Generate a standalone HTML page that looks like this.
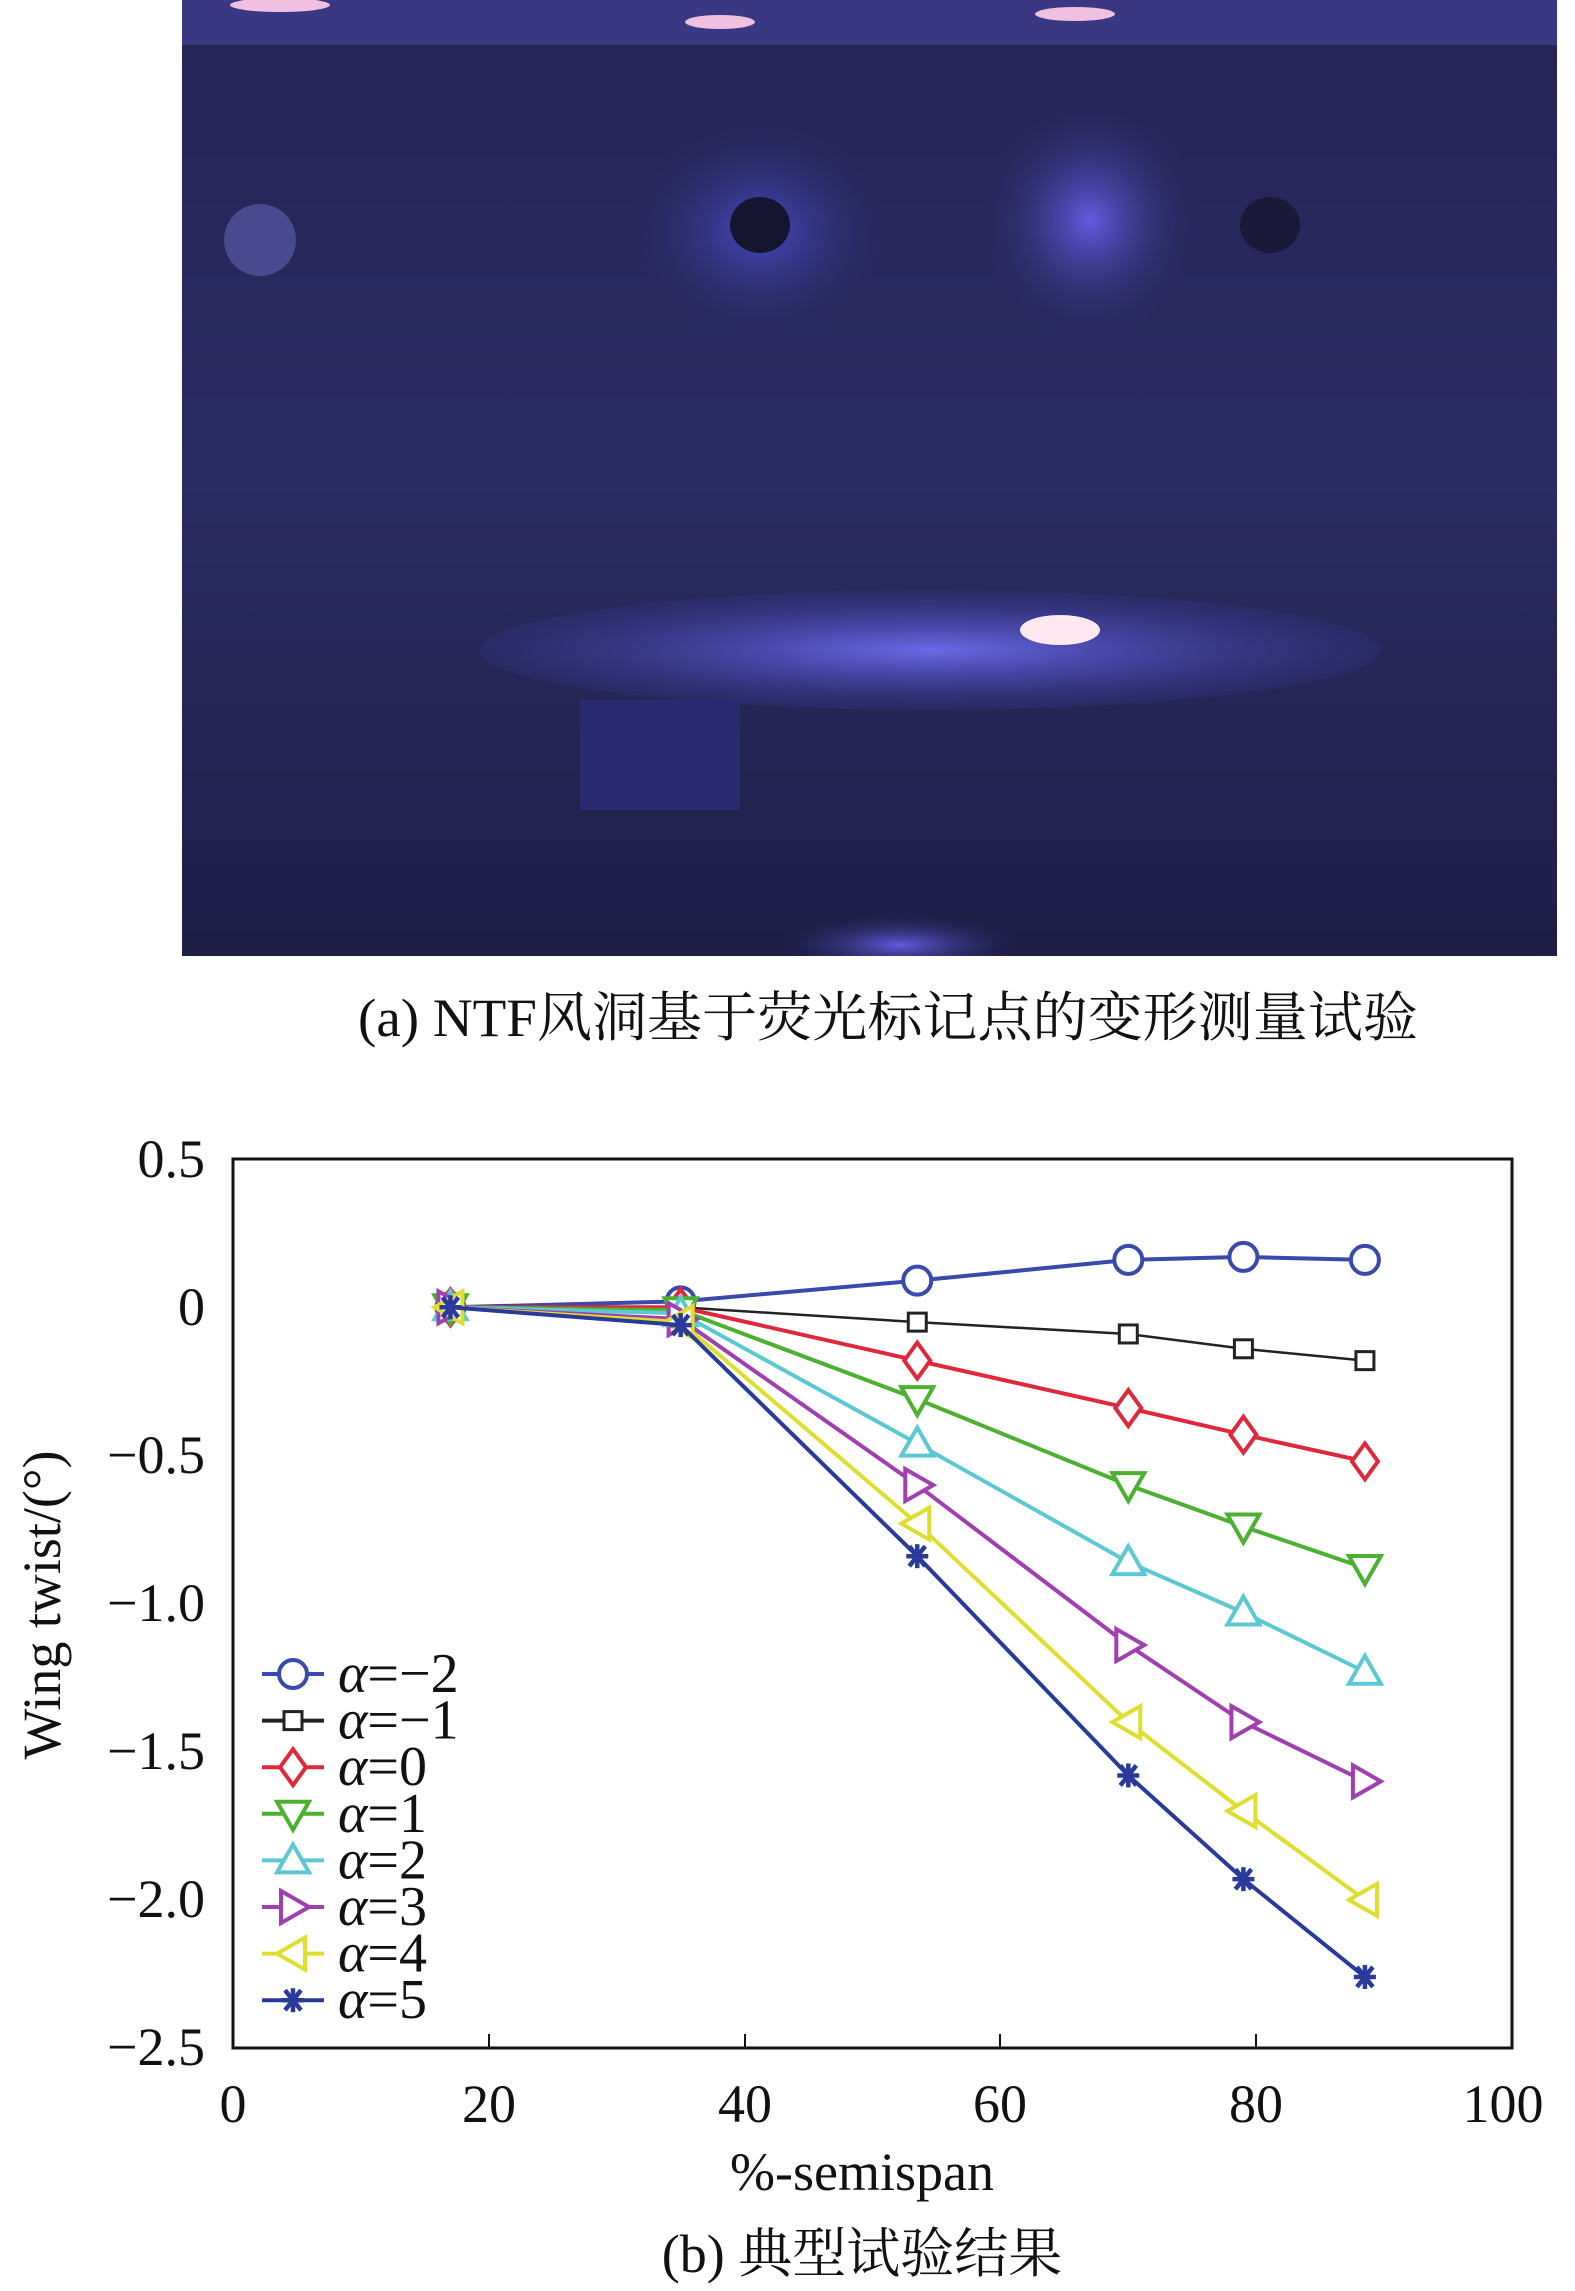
<!DOCTYPE html>
<html><head><meta charset="utf-8"><style>
html,body{margin:0;padding:0;background:#fff;}
svg{display:block;}
text{font-family:"Liberation Serif","Noto Serif CJK SC",serif;fill:#111;}
</style></head><body>
<svg width="1575" height="2291" viewBox="0 0 1575 2291" xmlns="http://www.w3.org/2000/svg">
<defs>
<radialGradient id="b1" cx="0.5" cy="0.5" r="0.5"><stop offset="0" stop-color="#4a4fd0" stop-opacity="0.9"/><stop offset="1" stop-color="#2a2b66" stop-opacity="0"/></radialGradient>
<radialGradient id="b2" cx="0.5" cy="0.5" r="0.5"><stop offset="0" stop-color="#6a60f0" stop-opacity="0.9"/><stop offset="1" stop-color="#2a2b66" stop-opacity="0"/></radialGradient>
<radialGradient id="wing" cx="0.5" cy="0.5" r="0.5"><stop offset="0" stop-color="#6a6ae8"/><stop offset="1" stop-color="#3a3aa0" stop-opacity="0.2"/></radialGradient>
<linearGradient id="bg" x1="0" y1="0" x2="0" y2="1"><stop offset="0" stop-color="#252457"/><stop offset="0.5" stop-color="#2b2c62"/><stop offset="1" stop-color="#1e1e46"/></linearGradient>
<clipPath id="pc"><rect x="182" y="0" width="1375" height="956"/></clipPath>
</defs>
<g clip-path="url(#pc)">
<rect x="182" y="0" width="1375" height="956" fill="url(#bg)"/>
<rect x="182" y="0" width="1375" height="45" fill="#3a3882"/>
<ellipse cx="1090" cy="220" rx="110" ry="120" fill="url(#b2)"/>
<ellipse cx="760" cy="230" rx="130" ry="110" fill="url(#b1)"/>
<ellipse cx="760" cy="225" rx="30" ry="28" fill="#151530"/>
<ellipse cx="1270" cy="225" rx="30" ry="28" fill="#1a1a38"/>
<ellipse cx="260" cy="240" rx="36" ry="36" fill="#4a4a90"/>
<ellipse cx="280" cy="5" rx="50" ry="7" fill="#f0c0e0"/>
<ellipse cx="720" cy="22" rx="35" ry="7" fill="#f0c0e0"/>
<ellipse cx="1075" cy="14" rx="40" ry="7" fill="#f0c0e0"/>
<ellipse cx="930" cy="650" rx="450" ry="60" fill="url(#wing)"/>
<rect x="580" y="700" width="160" height="110" fill="#2a2a70"/>
<ellipse cx="1060" cy="630" rx="40" ry="15" fill="#ffe8f0"/>
<ellipse cx="900" cy="945" rx="120" ry="30" fill="url(#b2)"/>
</g>
<text x="888" y="1036" font-size="54" text-anchor="middle" textLength="1060" lengthAdjust="spacingAndGlyphs">(a) NTF风洞基于荧光标记点的变形测量试验</text>
<rect x="233" y="1159" width="1279" height="889" fill="none" stroke="#111" stroke-width="3"/>
<g stroke="#111" stroke-width="2">
<line x1="489" y1="2048" x2="489" y2="2034"/><line x1="745" y1="2048" x2="745" y2="2034"/>
<line x1="1000" y1="2048" x2="1000" y2="2034"/><line x1="1256" y1="2048" x2="1256" y2="2034"/>
</g>
<g font-size="54" text-anchor="end">
<text x="205" y="1177">0.5</text><text x="205" y="1325">0</text>
<text x="205" y="1473">−0.5</text><text x="205" y="1621">−1.0</text>
<text x="205" y="1769">−1.5</text><text x="205" y="1917">−2.0</text>
<text x="205" y="2065">−2.5</text>
</g>
<g font-size="54" text-anchor="middle">
<text x="233" y="2122">0</text><text x="489" y="2122">20</text><text x="745" y="2122">40</text>
<text x="1000" y="2122">60</text><text x="1256" y="2122">80</text><text x="1503" y="2122">100</text>
<text x="862" y="2190">%-semispan</text>
<text x="862" y="2272">(b) 典型试验结果</text>
</g>
<text transform="translate(60,1605) rotate(-90)" font-size="54" text-anchor="middle">Wing twist/(°)</text>
<g id="series" fill="none" stroke-width="3"></g>
<g id="legend" font-size="56" font-style="italic"></g>
</svg>
<script>
var xs=[17,35,53.5,70,79,88.5];
var S=[
["#3a4aac",[0,0.02,0.09,0.16,0.17,0.16],"o","−2"],
["#222222",[0,0,-0.05,-0.09,-0.14,-0.18],"s","−1"],
["#e0283c",[0,0,-0.18,-0.34,-0.43,-0.52],"d","0"],
["#4cb030",[0,-0.01,-0.31,-0.60,-0.74,-0.88],"v","1"],
["#5cc8d4",[0,-0.02,-0.46,-0.86,-1.03,-1.23],"^","2"],
["#a040b0",[0,-0.04,-0.60,-1.14,-1.40,-1.60],">","3"],
["#dede30",[0,-0.05,-0.73,-1.40,-1.70,-2.00],"<","4"],
["#2a3a9a",[0,-0.06,-0.84,-1.58,-1.93,-2.26],"*","5"]];
function X(v){return 233+v*12.79}function Y(v){return 1307.3-v*296.3}
function mk(t,x,y,c){var s='';
if(t=="o")s='<circle cx="'+x+'" cy="'+y+'" r="14" fill="#fff" stroke="'+c+'" stroke-width="4"/>';
else if(t=="s")s='<rect x="'+(x-9)+'" y="'+(y-9)+'" width="18" height="18" fill="#fff" stroke="'+c+'" stroke-width="3"/>';
else{var p;
if(t=="d")p=[[0,-18],[13,0],[0,18],[-13,0]];
if(t=="v")p=[[-16,-12],[16,-12],[0,16]];
if(t=="^")p=[[-16,12],[16,12],[0,-16]];
if(t==">")p=[[-12,-16],[-12,16],[16,0]];
if(t=="<")p=[[12,-16],[12,16],[-16,0]];
if(t=="*")return '<g stroke="'+c+'" stroke-width="4.5"><line x1="'+(x-11)+'" y1="'+y+'" x2="'+(x+11)+'" y2="'+y+'"/><line x1="'+(x-8)+'" y1="'+(y-10)+'" x2="'+(x+8)+'" y2="'+(y+10)+'"/><line x1="'+(x-8)+'" y1="'+(y+10)+'" x2="'+(x+8)+'" y2="'+(y-10)+'"/><line x1="'+x+'" y1="'+(y-12)+'" x2="'+x+'" y2="'+(y+12)+'"/></g>';
s='<polygon points="'+p.map(function(q){return (x+q[0])+','+(y+q[1])}).join(' ')+'" fill="#fff" stroke="'+c+'" stroke-width="4"/>';}
return s;}
var g='',L='';
S.forEach(function(s,i){var c=s[0];
g+='<polyline points="'+xs.map(function(x,j){return X(x)+','+Y(s[1][j])}).join(' ')+'" stroke="'+c+'" stroke-width="'+(i==1?2.5:4)+'"/>';
xs.forEach(function(x,j){g+=mk(s[2],X(x),Y(s[1][j]),c)});
var ly=1674+i*46.6;
L+='<line x1="262" y1="'+ly+'" x2="324" y2="'+ly+'" stroke="'+c+'" stroke-width="4"/>'+mk(s[2],293,ly,c);
L+='<text x="338" y="'+(ly+18)+'">α<tspan font-style="normal">='+s[3]+'</tspan></text>';
});
document.getElementById('series').innerHTML=g;
document.getElementById('legend').innerHTML=L;
</script>
</body></html>
